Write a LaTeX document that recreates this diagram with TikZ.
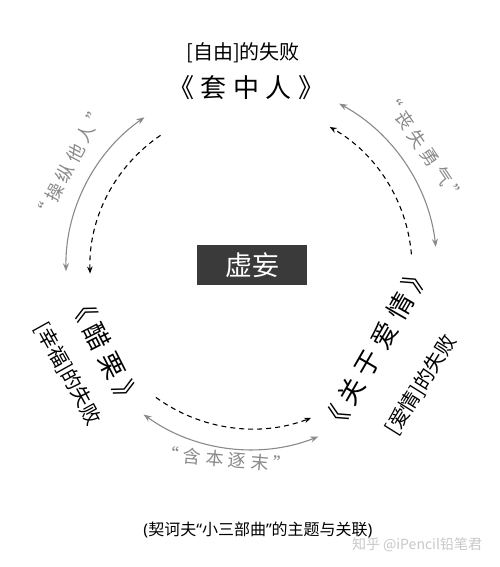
\documentclass[tikz,border=0pt]{standalone}
\usepackage{fontspec}
\newfontfamily\cjk{Noto Sans CJK SC}
\newfontfamily\cjkspaced[LetterSpace=25]{Noto Sans CJK SC}
\newfontfamily\lat{Noto Sans}
\usetikzlibrary{arrows.meta}
\definecolor{arcgray}{HTML}{8A8A8A}
\definecolor{boxgray}{HTML}{3A3A3A}
\definecolor{markgray}{HTML}{C8C8C8}
\begin{document}
\begin{tikzpicture}[x=1pt,y=1pt,
 titletext/.style={font=\cjkspaced\fontsize{26}{30}\selectfont, inner sep=0pt},
 subtext/.style={font=\cjk\fontsize{20}{23}\selectfont, inner sep=0pt},
 lbltext/.style={font=\cjkspaced\fontsize{18}{22}\selectfont, text=arcgray, inner sep=0pt},
 grayarc/.style={draw=arcgray, line width=1.1pt, {Stealth[length=8pt,width=6pt]}-{Stealth[length=8pt,width=6pt]}},
 dasharc/.style={draw=black, line width=1.1pt, dash pattern=on 5pt off 4pt, -{Stealth[length=7pt,width=5.5pt]}}
]
\useasboundingbox (0,0) rectangle (500,-567);
\fill[white] (0,0) rectangle (500,-567);
\coordinate (c) at (250,-268);

% center box
\node[fill=boxgray, text=white, minimum width=110pt, minimum height=40pt, inner sep=0pt,
      font=\cjk\fontsize{27}{30}\selectfont] (xw) at (252,-265) {虚妄};

% top
\node[titletext] (t) at (246,-88) {《套中人》};
\node[subtext] (ts) at (243,-53) {[自由]的失败};

% left
\node[titletext, rotate=-63] (l) at (105,-351) {《醋栗》};
\node[subtext, rotate=-61] (ls) at (68,-374) {[幸福]的失败};

% right
\node[titletext, rotate=60] (r) at (376,-349) {《关于爱情》};
\node[subtext, rotate=58] (rs) at (421,-385) {[爱情]的失败};

% arcs: left
\path (c) ++(125:184) coordinate (la1);
\draw[grayarc] (la1) arc[start angle=125, end angle=181, radius=184];
\path (c) ++(124:160) coordinate (ld1);
\draw[dasharc] (ld1) arc[start angle=124, end angle=182, radius=160];

% arcs: right
\path (c) ++(61.5:187) coordinate (ra1);
\draw[grayarc] (ra1) arc[start angle=61.5, end angle=6.5, radius=187];
\path (c) ++(4.8:162) coordinate (rd1);
\draw[dasharc] (rd1) arc[start angle=4.8, end angle=60.5, radius=162];

% arcs: bottom
\path (c) ++(234:181) coordinate (ba1);
\draw[grayarc] (ba1) arc[start angle=234, end angle=291.5, radius=183];
\path (c) ++(234:160) coordinate (bd1);
\draw[dasharc] (bd1) arc[start angle=234, end angle=291, radius=164];

% labels
\node[lbltext, rotate=62] (lab1) at (70,-163) {“操纵他人”};
\node[lbltext, rotate=-56] (lab2) at (424,-148) {“丧失勇气”};
\node[lbltext, rotate=-5] (lab3) at (226,-459) {“含本逐末”};

% caption
\node[font=\cjk\fontsize{16}{18}\selectfont, inner sep=0pt] (cap) at (258,-530) {{\lat(}契诃夫{\lat“}小三部曲{\lat”}的主题与关联{\lat)}};
\node[font=\cjk\fontsize{14}{17}\selectfont, text=markgray, inner sep=0pt] (wm) at (417,-545) {知乎 @iPencil铅笔君};
\end{tikzpicture}
\end{document}
